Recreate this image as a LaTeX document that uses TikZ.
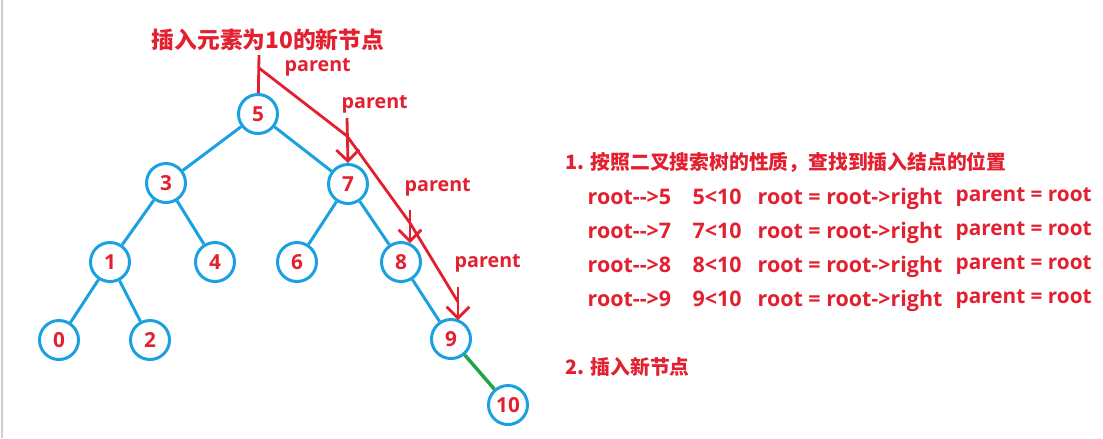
\documentclass[tikz,border=0pt]{standalone}
\usepackage{fontspec}
\setmainfont{Open Sans}
\newfontfamily\cjk{Noto Sans CJK SC}
\usetikzlibrary{arrows.meta}

\definecolor{treeblue}{RGB}{27,161,226}
\definecolor{markred}{RGB}{226,32,48}
\definecolor{newgreen}{RGB}{34,165,70}
\definecolor{edgegray}{RGB}{205,205,205}

\tikzset{
  treenode/.style={draw=treeblue, line width=0.85pt, circle, minimum size=0.39cm, inner sep=0pt,
    fill=white, text=markred, font=\fontsize{5.9}{7}\selectfont\bfseries},
  treeedge/.style={treeblue, line width=0.85pt},
  newedge/.style={newgreen, line width=1pt},
  walk/.style={markred, line width=0.8pt},
  walkarrow/.style={walk, -{Straight Barb[length=3.2pt,width=6.5pt,line width=0.8pt]}},
  parentlabel/.style={anchor=base west, inner sep=0pt, text=markred, font=\fontsize{5.6}{7}\selectfont\bfseries},
  rowtext/.style={anchor=base west, inner sep=0pt, text=markred, font=\fontsize{6.1}{7}\selectfont\bfseries},
  parenttext/.style={anchor=base west, inner sep=0pt, text=markred, font=\fontsize{5.9}{7}\selectfont\bfseries},
  headtext/.style={anchor=base west, inner sep=0pt, text=markred, font=\fontsize{5.63}{7}\selectfont\cjk\bfseries}
}

\begin{document}
\begin{tikzpicture}[x=0.01cm, y=-0.01cm]
  \useasboundingbox (0,0) rectangle (1103,438);
  \fill [edgegray] (1.5,0) rectangle (3,438);

  \node [treenode] (n5) at (258,114) {5};
  \node [treenode] (n3) at (166,183) {3};
  \node [treenode] (n7) at (348,184) {7};
  \node [treenode] (n1) at (110,262) {1};
  \node [treenode] (n4) at (215,262) {4};
  \node [treenode] (n6) at (297,262) {6};
  \node [treenode] (n8) at (401,262) {8};
  \node [treenode] (n0) at (59,340) {0};
  \node [treenode] (n2) at (150,340) {2};
  \node [treenode] (n9) at (451,339) {9};
  \node [treenode] (n10) at (508,405) {10};

  \foreach \a/\b in {n5/n3, n5/n7, n3/n1, n3/n4, n7/n6, n7/n8, n1/n0, n1/n2, n8/n9}
    \draw [treeedge] (\a) -- (\b);
  \draw [newedge] (n9) -- (n10);

  \node [anchor=base, inner sep=0pt, text=markred, font=\fontsize{6.47}{7}\selectfont\cjk\bfseries] (title) at (268,48) {插入元素为10的新节点};

  \coordinate (start) at (259,55);
  \coordinate (bendA) at (259,68);
  \coordinate (bendB) at (347,136);
  \coordinate (bendC) at (410,223);
  \coordinate (bendD) at (458,302);
  \coordinate (topB) at (347,118);
  \coordinate (topC) at (410,210);
  \coordinate (topD) at (458,287);
  \coordinate (tipC) at (410,243);
  \coordinate (tipD) at (458,320);

  \draw [walk] (start) -- (n5);
  \draw [walk] (bendA) -- (bendB) -- (bendC) -- (bendD);
  \draw [walkarrow] (topB) -- (n7.north);
  \draw [walkarrow] (topC) -- (tipC);
  \draw [walkarrow] (topD) -- (tipD);

  \node [parentlabel] (pA) at (284,71) {parent};
  \node [parentlabel] (pB) at (341,108) {parent};
  \node [parentlabel] (pC) at (404,191) {parent};
  \node [parentlabel] (pD) at (454,267) {parent};

  \node [headtext] (stepA) at (565,169) {1. 按照二叉搜索树的性质，查找到插入结点的位置};
  \foreach \v/\y in {5/204, 7/238, 8/272, 9/306} {
    \node [rowtext] (root\v) at (587,\y) {root-{}->\v};
    \node [rowtext] (less\v) at (692,\y) {\v<10};
    \node [rowtext] (right\v) at (757,\y) {root = root->right};
    \node [parenttext] (par\v) at (955,\y-3) {parent = root};
  }
  \node [headtext] (stepB) at (565,374) {2. 插入新节点};
\end{tikzpicture}
\end{document}
